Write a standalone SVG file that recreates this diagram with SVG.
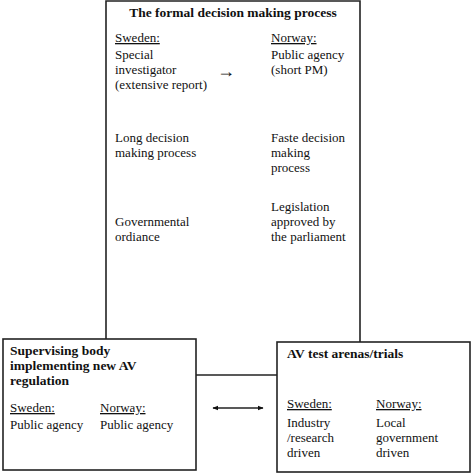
<svg xmlns="http://www.w3.org/2000/svg" width="474" height="474" viewBox="0 0 474 474">
<style>
text{font-family:"Liberation Serif","Times New Roman",serif;font-size:13px;fill:#111}
.b{font-weight:bold;font-size:13.5px}
.u{text-decoration:underline}
.box{fill:#fff;stroke:#222;stroke-width:1.6}
.ln{fill:none;stroke:#222;stroke-width:1.6}
</style>
<defs>
<marker id="ah" viewBox="0 0 10 10" refX="9" refY="5" markerWidth="6" markerHeight="6" orient="auto-start-reverse" markerUnits="userSpaceOnUse">
<path d="M0,1 L10,5 L0,9 Z" fill="#111"/>
</marker>
</defs>
<rect width="474" height="474" fill="#fff"/>
<g id="formal-process">
<path class="ln" d="M106,339 V1 H360 V342"/>
<text class="b" x="233" y="17" text-anchor="middle">The formal decision making process</text>
<text class="u" x="115" y="42">Sweden:</text>
<text x="115" y="59">Special</text>
<text x="115" y="74">investigator</text>
<text x="115" y="89">(extensive report)</text>
<text x="226" y="77" text-anchor="middle" style="font-size:18px">→</text>
<text class="u" x="271" y="42">Norway:</text>
<text x="271" y="59">Public agency</text>
<text x="271" y="74">(short PM)</text>
<text x="115" y="142">Long decision</text>
<text x="115" y="157">making process</text>
<text x="271" y="142">Faste decision</text>
<text x="271" y="157">making</text>
<text x="271" y="172">process</text>
<text x="115" y="226">Governmental</text>
<text x="115" y="241">ordiance</text>
<text x="271" y="211">Legislation</text>
<text x="271" y="226">approved by</text>
<text x="271" y="241">the parliament</text>
</g>
<g id="connectors">
<path class="ln" d="M196,375 H277"/>
<path class="ln" d="M213,408 H263" marker-start="url(#ah)" marker-end="url(#ah)"/>
</g>
<g id="supervising-body">
<rect class="box" x="3" y="339" width="193" height="131"/>
<text class="b" x="10" y="355">Supervising body</text>
<text class="b" x="10" y="370">implementing new AV</text>
<text class="b" x="10" y="385">regulation</text>
<text class="u" x="10" y="412">Sweden:</text>
<text class="u" x="100" y="412">Norway:</text>
<text x="10" y="429">Public agency</text>
<text x="100" y="429">Public agency</text>
</g>
<g id="av-test-arenas">
<rect class="box" x="277" y="342" width="193" height="130"/>
<text class="b" x="287" y="358">AV test arenas/trials</text>
<text class="u" x="287" y="408">Sweden:</text>
<text class="u" x="376" y="408">Norway:</text>
<text x="287" y="427">Industry</text>
<text x="287" y="442">/research</text>
<text x="287" y="457">driven</text>
<text x="376" y="427">Local</text>
<text x="376" y="442">government</text>
<text x="376" y="457">driven</text>
</g>
</svg>
